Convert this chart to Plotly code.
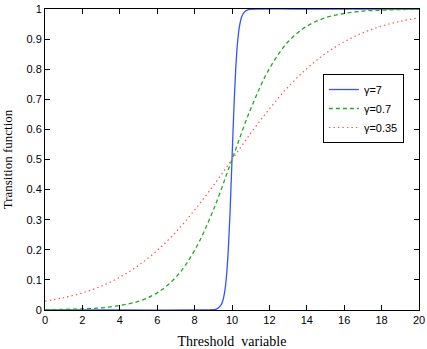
import plotly.graph_objects as go

# Values
x_smooth = [0, 1, 2, 3, 4, 5, 6, 7, 8, 9, 10, 11, 12, 13, 14, 15, 16, 17, 18, 19, 20]
g_035 = [0.029, 0.041, 0.057, 0.079, 0.109, 0.148, 0.198, 0.259, 0.332, 0.413, 0.5,
         0.587, 0.668, 0.741, 0.802, 0.852, 0.891, 0.921, 0.943, 0.959, 0.971]
g_07 = [0.001, 0.002, 0.004, 0.007, 0.015, 0.029, 0.057, 0.109, 0.198, 0.332, 0.5,
        0.668, 0.802, 0.891, 0.943, 0.971, 0.985, 0.993, 0.996, 0.998, 0.999]
x_steep = [0, 4, 8, 9, 9.2, 9.4, 9.5, 9.6, 9.7, 9.8, 9.9, 10, 10.1, 10.2, 10.3, 10.4,
           10.5, 10.6, 10.8, 11, 14, 20]
g_7 = [0, 0, 0, 0.001, 0.004, 0.015, 0.029, 0.057, 0.109, 0.198, 0.332, 0.5, 0.668,
       0.802, 0.891, 0.943, 0.971, 0.985, 0.996, 0.999, 1, 1]

series_names = ["\u03b3=7", "\u03b3=0.7", "\u03b3=0.35"]
x_ticks = [0, 2, 4, 6, 8, 10, 12, 14, 16, 18, 20]
y_ticks = [0, 0.1, 0.2, 0.3, 0.4, 0.5, 0.6, 0.7, 0.8, 0.9, 1]
y_tick_labels = ["0", "0.1", "0.2", "0.3", "0.4", "0.5", "0.6", "0.7", "0.8", "0.9", "1"]

fig = go.Figure()
fig.add_trace(go.Scatter(x=x_steep, y=g_7, mode="lines", name=series_names[0],
                         line=dict(color="#3355ff", width=1.3, shape="spline", smoothing=0.6)))
fig.add_trace(go.Scatter(x=x_smooth, y=g_07, mode="lines", name=series_names[1],
                         line=dict(color="#22aa22", width=1.3, dash="4px,3px", shape="spline")))
fig.add_trace(go.Scatter(x=x_smooth, y=g_035, mode="lines", name=series_names[2],
                         line=dict(color="#ff5555", width=1.2, dash="1.5px,3px", shape="spline")))

axis_common = dict(showline=True, linecolor="black", linewidth=1, mirror="ticks",
                   ticks="inside", ticklen=5, tickcolor="black", showgrid=False,
                   zeroline=False, automargin=False,
                   tickfont=dict(family="Liberation Sans, Arial", size=11, color="black"))

fig.update_layout(
    width=427, height=349,
    margin=dict(l=45, r=8, t=9, b=39),
    plot_bgcolor="white", paper_bgcolor="white",
    xaxis=dict(range=[0, 20], tickvals=x_ticks, ticktext=[str(v) for v in x_ticks],
               title=dict(text="Threshold  variable", standoff=10,
                          font=dict(family="Liberation Serif, Times New Roman", size=14, color="black")),
               **axis_common),
    yaxis=dict(range=[0, 1], tickvals=y_ticks, ticktext=y_tick_labels,
               title=dict(text="Transition function", standoff=10,
                          font=dict(family="Liberation Serif, Times New Roman", size=13, color="black")),
               **axis_common),
    legend=dict(x=0.743, y=0.784, xanchor="left", yanchor="top",
                bordercolor="black", borderwidth=1, bgcolor="white",
                font=dict(family="Liberation Sans, Arial", size=11, color="black"),
                tracegroupgap=0, itemwidth=30),
    showlegend=True,
)

fig.write_html("out.html", config={"displayModeBar": False},
               post_script="document.body.style.margin='0';document.body.style.overflow='hidden';")
